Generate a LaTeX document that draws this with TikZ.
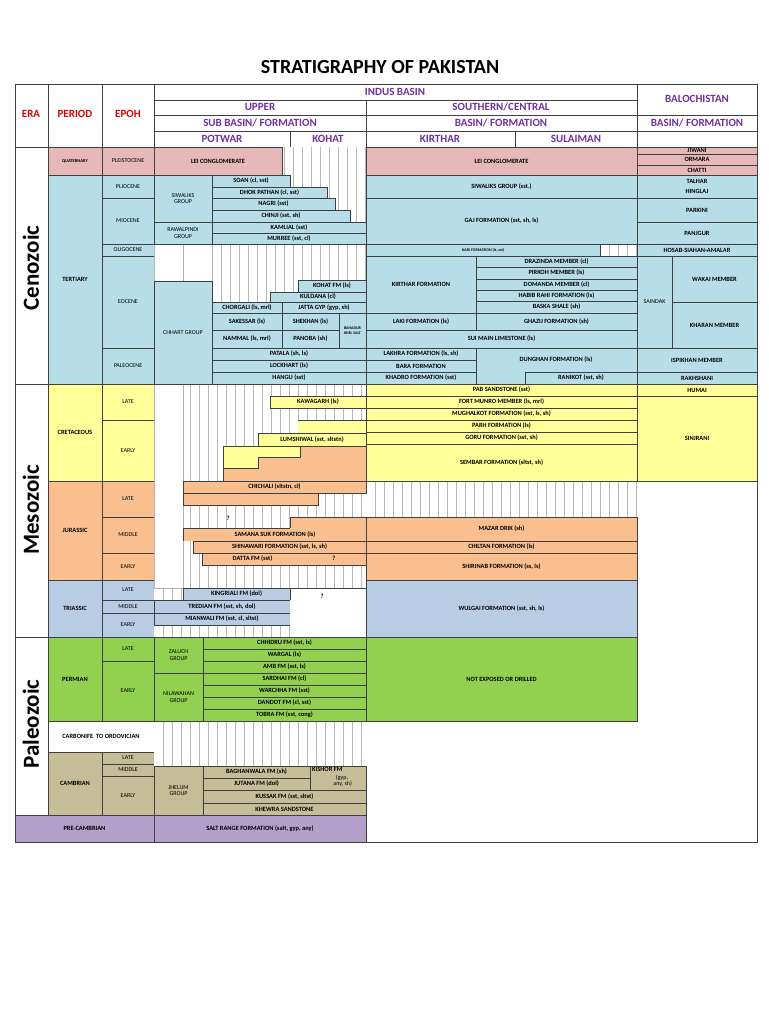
\documentclass[tikz,border=0pt]{standalone}
\usepackage{fontspec}
\setmainfont{Carlito}
\definecolor{pk}{HTML}{E6B8B7}
\definecolor{bl}{HTML}{B7DEE8}
\definecolor{ye}{HTML}{FFFF99}
\definecolor{orr}{HTML}{FABF8F}
\definecolor{tb}{HTML}{B8CCE4}
\definecolor{gr}{HTML}{92D050}
\definecolor{tn}{HTML}{C4BD97}
\definecolor{pu}{HTML}{B1A0C7}
\definecolor{hred}{HTML}{E00000}
\definecolor{hpur}{HTML}{7030A0}
\tikzset{lbl/.style={font=\bfseries\fontsize{6.4}{6.8}\selectfont,align=center,inner sep=0pt},
 pl/.style={font=\fontsize{6}{6.5}\selectfont},
 hd/.style={font=\bfseries\fontsize{11}{12}\selectfont,text=hpur,inner sep=0pt},
 hr/.style={font=\bfseries\fontsize{11}{12}\selectfont,text=hred,inner sep=0pt},
 era/.style={rotate=90,font=\bfseries\fontsize{23}{25}\selectfont}}
\newcommand\cl[7][]{\filldraw[fill=#6,draw=black!75,line width=0.5pt](#2,#3) rectangle (#4,#5);
 \node[lbl,#1] at ({(#2+#4)/2},{(#3+#5)/2}) {#7};}
\newcommand\hz[4]{\fill[white](#1,#2) rectangle (#3,#4);
 \foreach \i in {1,...,40}{\pgfmathsetmacro\xx{#1+9*\i}\pgfmathparse{\xx<#3?1:0}\ifnum\pgfmathresult=1 \draw[gray!55,line width=0.4pt](\xx,#2)--(\xx,#4);\fi}}
\begin{document}
\begin{tikzpicture}[x=1pt,y=-1pt]
\useasboundingbox (0,0) rectangle (768,1024);
\fill[white](0,0) rectangle (768,1024);
\node[font=\bfseries\fontsize{20}{22}\selectfont] (title) at (380,67) {STRATIGRAPHY OF PAKISTAN};
% header
\draw[black!75,line width=0.5pt](15,84) rectangle (757,147);
\draw[black!75](48,84)--(48,147) (102,84)--(102,147) (154,84)--(154,147) (637,84)--(637,147);
\draw[black!75](154,100)--(637,100) (154,115)--(757,115) (154,131)--(757,131);
\draw[black!75](366,100)--(366,147) (290,131)--(290,147) (515,131)--(515,147);
\node[hr] at (31,114){ERA}; \node[hr] at (75,114){PERIOD}; \node[hr] at (128,114){EPOH};
\node[hd] at (395,92){INDUS BASIN}; \node[hd] at (260,107){UPPER}; \node[hd] at (501,107){SOUTHERN/CENTRAL};
\node[hd] at (260,123){SUB BASIN/ FORMATION}; \node[hd] at (501,123){BASIN/ FORMATION};
\node[hd] at (222,139){POTWAR}; \node[hd] at (328,139){KOHAT}; \node[hd] at (440,139){KIRTHAR}; \node[hd] at (576,139){SULAIMAN};
\node[hd] at (697,99){BALOCHISTAN}; \node[hd] at (697,123){BASIN/ FORMATION};
% era column
\draw[black!75](15,147) rectangle (48,815);
\draw[black!75](15,384)--(48,384) (15,637)--(48,637);
\node[era] at (31,268){Cenozoic};
\node[era] at (31,510){Mesozoic};
\node[era] at (31,724){Paleozoic};
% periods
\cl[font=\bfseries\fontsize{4.5}{5}\selectfont]{48}{147}{102}{175}{pk}{QUATERNARY}
\cl{48}{175}{102}{384}{bl}{TERTIARY}
\cl{48}{384}{102}{481}{ye}{CRETACEOUS}
\cl{48}{481}{102}{580}{orr}{JURASSIC}
\cl{48}{580}{102}{637}{tb}{TRIASSIC}
\cl{48}{637}{102}{721}{gr}{PERMIAN}
\cl{48}{721}{154}{752}{white}{CARBONIFE\ \ TO ORDOVICIAN}
\cl{48}{752}{102}{815}{tn}{CAMBRIAN}
\cl{15}{815}{154}{842}{pu}{PRE-CAMBRIAN}
% epochs
\cl[pl]{102}{147}{154}{175}{pk}{PLEISTOCENE}
\cl[pl]{102}{175}{154}{198}{bl}{PLIOCENE}
\cl[pl]{102}{198}{154}{244}{bl}{MIOCENE}
\cl[pl]{102}{244}{154}{256}{bl}{OLIGOCENE}
\cl[pl]{102}{256}{154}{348}{bl}{EOCENE}
\cl[pl]{102}{348}{154}{384}{bl}{PALEOCENE}
\cl[pl]{102}{384}{154}{420}{ye}{LATE}
\cl[pl]{102}{420}{154}{481}{ye}{EARLY}
\cl[pl]{102}{481}{154}{517}{orr}{LATE}
\cl[pl]{102}{517}{154}{553}{orr}{MIDDLE}
\cl[pl]{102}{553}{154}{580}{orr}{EARLY}
\cl[pl]{102}{580}{154}{600}{tb}{LATE}
\cl[pl]{102}{600}{154}{613}{tb}{MIDDLE}
\cl[pl]{102}{613}{154}{637}{tb}{EARLY}
\cl[pl]{102}{637}{154}{661}{gr}{LATE}
\cl[pl]{102}{661}{154}{721}{gr}{EARLY}
\cl[pl]{102}{752}{154}{764}{tn}{LATE}
\cl[pl]{102}{764}{154}{776}{tn}{MIDDLE}
\cl[pl]{102}{776}{154}{815}{tn}{EARLY}
% hatches
\hz{212}{147}{366}{302}
\hz{154}{384}{366}{637}
\hz{600}{244}{637}{256}
\hz{366}{481}{637}{517}
\hz{154}{721}{366}{766}
\filldraw[fill=white,draw=gray!60](154,244) rectangle (183,281) (183,244) rectangle (212,281);
\filldraw[fill=white,draw=gray!60](154,384) rectangle (183,588);
% Cenozoic upper
\cl{154}{147}{282}{175}{pk}{LEI CONGLOMERATE}
\cl[pl]{154}{175}{212}{222}{bl}{SIWALIKS\\GROUP}
\cl[pl]{154}{222}{212}{244}{bl}{RAWALPINDI\\GROUP}
\cl{212}{175}{290}{187}{bl}{SOAN (cl, sst)}
\cl{212}{187}{327}{198}{bl}{DHOK PATHAN (cl, sst)}
\cl{212}{198}{335}{210}{bl}{NAGRI (sst)}
\cl{212}{210}{350}{222}{bl}{CHINJI (sst, sh)}
\cl{212}{222}{366}{233}{bl}{KAMLIAL (sst)}
\cl{212}{233}{366}{244}{bl}{MURREE (sst, cl)}
\cl[pl]{154}{281}{212}{384}{bl}{CHHART GROUP}
\cl{298}{280}{366}{292}{bl}{KOHAT FM (ls)}
\cl{270}{292}{366}{302}{bl}{KULDANA (cl)}
\cl{212}{302}{282}{313}{bl}{CHORGALI (ls, mrl)}
\cl{282}{302}{366}{313}{bl}{JATTA GYP (gyp, sh)}
\cl{212}{313}{282}{330}{bl}{SAKESSAR (ls)}
\cl{282}{313}{339}{330}{bl}{SHEKHAN (ls)}
\cl[font=\bfseries\fontsize{4}{4.5}\selectfont]{339}{313}{366}{348}{bl}{BAHADUR\\KHEL SALT}
\cl{212}{330}{282}{348}{bl}{NAMMAL (ls, mrl)}
\cl{282}{330}{339}{348}{bl}{PANOBA (sh)}
\cl{212}{348}{366}{360}{bl}{PATALA (sh, ls)}
\cl{212}{360}{366}{372}{bl}{LOCKHART (ls)}
\cl{212}{372}{366}{384}{bl}{HANGU (sst)}
% Cenozoic southern
\cl{366}{147}{637}{175}{pk}{LEI CONGLOMERATE}
\cl{366}{175}{637}{198}{bl}{SIWALIKS GROUP (sst.)}
\cl{366}{198}{637}{244}{bl}{GAJ FORMATION (sst, sh, ls)}
\cl[font=\bfseries\fontsize{4}{4.5}\selectfont]{366}{244}{600}{256}{bl}{NARI FORMATION (ls, sst)}
\cl{366}{256}{476}{313}{bl}{KIRTHAR FORMATION}
\cl{476}{256}{637}{267}{bl}{DRAZINDA MEMBER (cl)}
\cl{476}{267}{637}{279}{bl}{PIRKOH MEMBER (ls)}
\cl{476}{279}{637}{290}{bl}{DOMANDA MEMBER (cl)}
\cl{476}{290}{637}{301}{bl}{HABIB RAHI FORMATION (ls)}
\cl{476}{301}{637}{313}{bl}{BASKA SHALE (sh)}
\cl{366}{313}{476}{330}{bl}{LAKI FORMATION (ls)}
\cl{476}{313}{637}{330}{bl}{GHAZIJ FORMATION (sh)}
\cl{366}{330}{637}{348}{bl}{SUI MAIN LIMESTONE (ls)}
\cl{366}{348}{476}{360}{bl}{LAKHRA FORMATION (ls, sh)}
\cl{366}{360}{476}{372}{bl}{BARA FORMATION}
\cl{366}{372}{476}{384}{bl}{KHADRO FORMATION (sst)}
\fill[bl](476,348) rectangle (637,384); \draw[black!75](476,348) rectangle (637,384);
\node[lbl] at (556,360){DUNGHAN FORMATION (ls)};
\cl{525}{372}{637}{384}{bl}{RANIKOT (sst, sh)}
% Balochistan Cenozoic
\cl{637}{147}{757}{154}{pk}{JIWANI}
\cl{637}{154}{757}{165}{pk}{ORMARA}
\cl{637}{165}{757}{175}{pk}{CHATTI}
\cl{637}{175}{757}{198}{bl}{TALHAR\\[3pt]HINGLAJ}
\cl{637}{198}{757}{222}{bl}{PARKINI}
\cl{637}{222}{757}{244}{bl}{PANJGUR}
\cl{637}{244}{757}{256}{bl}{HOSAB-SIAHAN-AMALAR}
\cl[pl]{637}{256}{672}{348}{bl}{SAINDAK}
\cl{672}{256}{757}{302}{bl}{WAKAI MEMBER}
\cl{672}{302}{757}{348}{bl}{KHARAN MEMBER}
\cl{637}{348}{757}{372}{bl}{ISPIKHAN MEMBER}
\cl{637}{372}{757}{384}{bl}{RAKHSHANI}
% Cretaceous upper
\cl{270}{396}{366}{408}{ye}{KAWAGARH (ls)}
\fill[ye](298,420) rectangle (366,433);
\cl{258}{433}{366}{446}{ye}{LUMSHIWAL (sst, sltstn)}
\fill[ye](223,446) rectangle (300,457) (223,457) rectangle (258,468);
\fill[orr](300,446) rectangle (366,481) (258,457) rectangle (300,481) (223,468) rectangle (258,481);
\draw[black!75](223,481)--(223,446)--(366,446) (258,457)--(300,457)--(300,446) (223,468)--(258,468)--(258,457) (298,420)--(366,420);
% Cretaceous southern / Bal
\cl{366}{384}{637}{396}{ye}{PAB SANDSTONE (sst)}
\cl{366}{396}{637}{408}{ye}{FORT MUNRO MEMBER (ls, mrl)}
\cl{366}{408}{637}{420}{ye}{MUGHALKOT FORMATION (sst, ls, sh)}
\cl{366}{420}{637}{432}{ye}{PARH FORMATION (ls)}
\cl{366}{432}{637}{444}{ye}{GORU FORMATION (sst, sh)}
\cl{366}{444}{637}{481}{ye}{SEMBAR FORMATION (sltst, sh)}
\cl{637}{384}{757}{396}{ye}{HUMAI}
\cl{637}{396}{757}{481}{ye}{SINJRANI}
% Jurassic
\cl{183}{481}{366}{493}{orr}{CHICHALI (sltstn, cl)}
\cl{183}{493}{318}{505}{orr}{}
\fill[orr](290,517) rectangle (366,528); \draw[black!75](290,528)--(290,517)--(366,517);
\node[lbl] at (228,518){?};
\fill[orr](183,528) rectangle (366,541) (300,519) rectangle (366,541);
\draw[black!75](183,541)--(183,528)--(290,528);
\node[lbl] at (275,535){SAMANA SUK FORMATION (ls)};
\cl{193}{541}{366}{553}{orr}{SHINAWARI FORMATION (sst, ls, sh)}
\cl{202}{553}{366}{565}{orr}{DATTA FM (sst)\hspace{60pt}?}
\cl{366}{517}{637}{541}{orr}{MAZAR DRIK (sh)}
\cl{366}{541}{637}{553}{orr}{CHILTAN FORMATION (ls)}
\cl{366}{553}{637}{580}{orr}{SHIRINAB FORMATION (ss, ls)}
% Triassic
\cl{183}{588}{290}{600}{tb}{KINGRIALI FM (dol)}
\filldraw[fill=white,draw=black!75](290,588) rectangle (366,600);
\node[lbl] at (322,596){?};
\cl{154}{600}{290}{613}{tb}{TREDIAN FM (sst, sh, dol)}
\cl{154}{613}{290}{625}{tb}{MIANWALI FM (sst, cl, sltst)}
\fill[white](290,600) rectangle (366,637);
\cl{366}{580}{637}{637}{tb}{WULGAI FORMATION (sst, sh, ls)}
% Permian
\cl[pl]{154}{637}{203}{673}{gr}{ZALUCH\\GROUP}
\cl[pl]{154}{673}{203}{721}{gr}{NILAWAHAN\\GROUP}
\cl{203}{637}{366}{649}{gr}{CHHIDRU FM (sst, ls)}
\cl{203}{649}{366}{661}{gr}{WARGAL (ls)}
\cl{203}{661}{366}{673}{gr}{AMB FM (sst, ls)}
\cl{203}{673}{366}{685}{gr}{SARDHAI FM (cl)}
\cl{203}{685}{366}{697}{gr}{WARCHHA FM (sst)}
\cl{203}{697}{366}{709}{gr}{DANDOT FM (cl, sst)}
\cl{203}{709}{366}{721}{gr}{TOBRA FM (sst, cong)}
\cl{366}{637}{637}{721}{gr}{NOT EXPOSED OR DRILLED}
% Cambrian
\cl[pl]{154}{766}{203}{815}{tn}{JHELUM\\GROUP}
\cl{203}{766}{310}{778}{tn}{BAGHANWALA FM (sh)}
\cl{310}{766}{366}{790}{tn}{}
\node[lbl,anchor=north west] at (312,767){KISHOR FM};
\node[lbl,font=\fontsize{6}{6.5}\selectfont] at (342,781){(gyp,\\ \ any, sh)};
\cl{203}{778}{310}{790}{tn}{JUTANA FM (dol)}
\cl{203}{790}{366}{803}{tn}{KUSSAK FM (sst, sltst)}
\cl{203}{803}{366}{815}{tn}{KHEWRA SANDSTONE}
\cl{154}{815}{366}{842}{pu}{SALT RANGE FORMATION (salt, gyp, any)}
% outer frame
\draw[black!75,line width=0.8pt](15,84) rectangle (757,842);
\draw[black!75](637,147)--(637,481);
\end{tikzpicture}
\end{document}
